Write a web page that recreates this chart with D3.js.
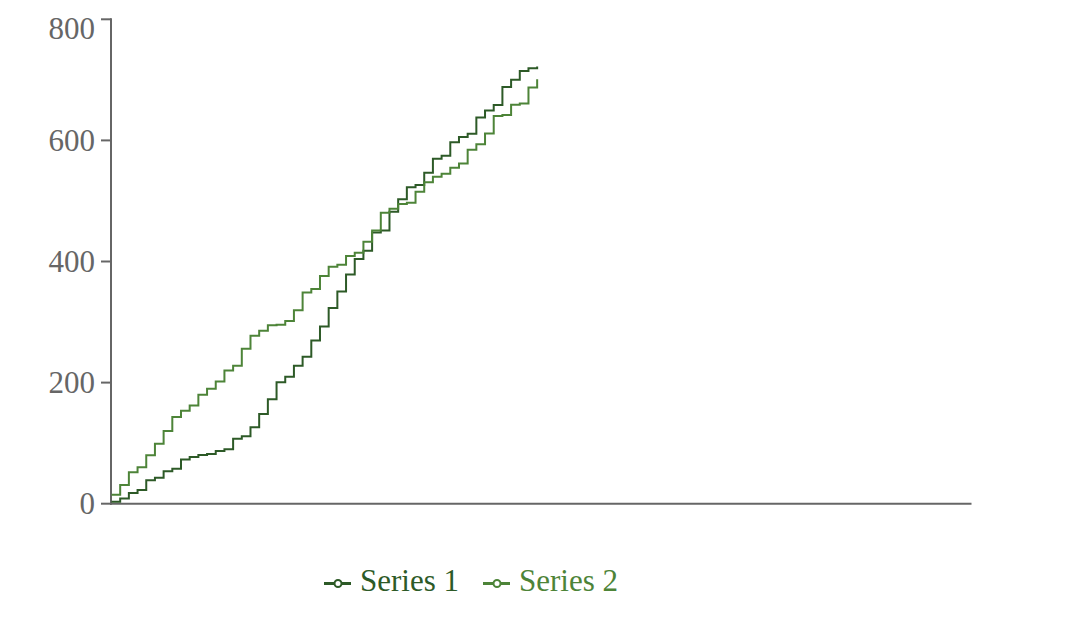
<!DOCTYPE html>
<html>
<head>
<meta charset="utf-8">
<script src="https://cdn.jsdelivr.net/npm/d3@7"></script>
<style>
  html, body { margin: 0; padding: 0; background: #fff; }
  svg { display: block; }
  text { font-family: "Liberation Serif", "Times New Roman", serif; }
</style>
</head>
<body>
<svg id="chart" width="1066" height="628"></svg>
<script>
// ---- data ----
const seriesNames = ["Series 1", "Series 2"];
const seriesColors = ["#2d5a27", "#4d8438"];
const xDomainMax = 99;
const yTicks = [0, 200, 400, 600, 800];
const series1 = [3.3, 8.5, 17.7, 22.6, 38.6, 43, 53.7, 57.8, 73, 77.3, 80.5, 82, 87, 90,
  107.4, 111.3, 126.2, 148.1, 172.4, 200.5, 209.7, 228, 242.8, 269.5, 292.5, 323, 350.5,
  378.5, 404, 417.6, 448, 451, 482, 502.7, 522.6, 526.4, 546.7, 569.5, 574.5, 597, 605.6,
  611, 638, 649.5, 658.5, 688, 700, 714.5, 719, 722];
const series2 = [14.6, 31, 51.8, 60.4, 80, 99, 120, 143.2, 153.6, 162, 180, 190, 201.7, 220,
  228, 256, 277.5, 285.7, 294.6, 295.6, 301.7, 319.4, 349, 354.6, 376, 391.4, 394.5, 409,
  414.6, 432.5, 451, 480.5, 487, 495, 497, 515.3, 531, 540, 545, 555, 562, 584.5, 593.5,
  611.5, 640.5, 642, 659, 661, 687.5, 701];

// ---- layout ----
const svg = d3.select("#chart");
const x = d3.scaleLinear().domain([0, xDomainMax]).range([111.5, 971.5]);
const y = d3.scaleLinear().domain([0, 800]).range([503.7, 19.3]);
const axisColor = "#666666";

// y axis
const yAxisG = svg.append("g").attr("transform", "translate(111,0)");
yAxisG.append("line")
  .attr("x1", 0).attr("x2", 0)
  .attr("y1", y(800) - 1).attr("y2", y(0) + 1)
  .attr("stroke", axisColor).attr("stroke-width", 2);
const tickG = yAxisG.selectAll("g.tick").data(yTicks).enter().append("g")
  .attr("class", "tick");
tickG.append("line")
  .attr("x1", -10).attr("x2", 0)
  .attr("y1", d => y(d)).attr("y2", d => y(d))
  .attr("stroke", axisColor).attr("stroke-width", 2);
tickG.append("text")
  .attr("x", -16)
  .attr("y", d => Math.max(y(d), 28))
  .attr("dy", "0.34em")
  .attr("text-anchor", "end")
  .attr("fill", "#666666")
  .attr("font-size", 31)
  .text(d => d);

// x axis (domain line only)
svg.append("line")
  .attr("x1", x(0) - 1.5).attr("x2", x(xDomainMax))
  .attr("y1", y(0)).attr("y2", y(0))
  .attr("stroke", axisColor).attr("stroke-width", 2);

// series
const line = d3.line()
  .x((d, i) => x(i))
  .y(d => y(d))
  .curve(d3.curveStepAfter);

[series1, series2].forEach((s, si) => {
  svg.append("path")
    .datum(s)
    .attr("fill", "none")
    .attr("stroke", seriesColors[si])
    .attr("stroke-width", 2)
    .attr("d", line);
});

// legend
const legendItems = [
  { name: seriesNames[0], color: seriesColors[0], x0: 324 },
  { name: seriesNames[1], color: seriesColors[1], x0: 483 }
];
const legendY = 583.5;
legendItems.forEach(item => {
  const g = svg.append("g").attr("transform", `translate(${item.x0},${legendY})`);
  g.append("line").attr("x1", 0).attr("x2", 27).attr("y1", 0).attr("y2", 0)
    .attr("stroke", item.color).attr("stroke-width", 3);
  g.append("circle").attr("cx", 14).attr("cy", 0).attr("r", 3.5)
    .attr("fill", "#fff").attr("stroke", item.color).attr("stroke-width", 2);
  g.append("text").attr("x", 36).attr("y", 7.5)
    .attr("fill", item.color).attr("font-size", 31)
    .text(item.name);
});
</script>
</body>
</html>
